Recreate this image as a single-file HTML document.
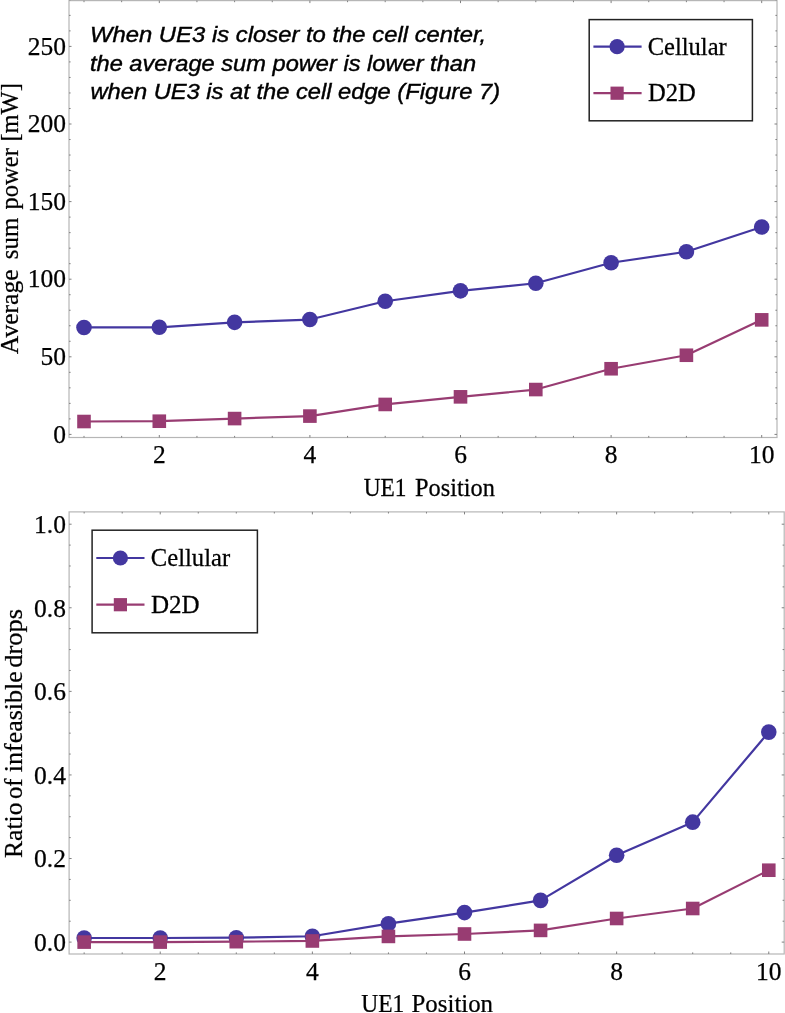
<!DOCTYPE html>
<html><head><meta charset="utf-8"><title>Average sum power and ratio of infeasible drops vs UE1 position</title><style>
html,body{margin:0;padding:0;background:#fff;}
body{width:785px;height:1013px;overflow:hidden}
svg{display:block}
.tl{font-family:"Liberation Serif",serif;font-size:25.5px;fill:#000;stroke:#000;stroke-width:0.25px}
.lg{font-family:"Liberation Serif",serif;fill:#000;stroke:#000;stroke-width:0.25px}
.al{font-family:"Liberation Serif",serif;fill:#000;stroke:#000;stroke-width:0.25px}
.an{font-family:"Liberation Sans",sans-serif;font-style:italic;fill:#000;stroke:#000;stroke-width:0.4px}
</style></head><body>
<svg width="785" height="1013" viewBox="0 0 785 1013">
<rect x="69" y="0.6" width="708" height="436.9" fill="none" stroke="#b6b6b6" stroke-width="1.2"/>
<path d="M84 437.5v-1.6M84 0.6v1.6M121.65 437.5v-1.6M121.65 0.6v1.6M159.3 437.5v-2.5M159.3 0.6v2.5M196.95 437.5v-1.6M196.95 0.6v1.6M234.6 437.5v-1.6M234.6 0.6v1.6M272.25 437.5v-1.6M272.25 0.6v1.6M309.9 437.5v-2.5M309.9 0.6v2.5M347.55 437.5v-1.6M347.55 0.6v1.6M385.2 437.5v-1.6M385.2 0.6v1.6M422.85 437.5v-1.6M422.85 0.6v1.6M460.5 437.5v-2.5M460.5 0.6v2.5M498.15 437.5v-1.6M498.15 0.6v1.6M535.8 437.5v-1.6M535.8 0.6v1.6M573.45 437.5v-1.6M573.45 0.6v1.6M611.1 437.5v-2.5M611.1 0.6v2.5M648.75 437.5v-1.6M648.75 0.6v1.6M686.4 437.5v-1.6M686.4 0.6v1.6M724.05 437.5v-1.6M724.05 0.6v1.6M761.7 437.5v-2.5M761.7 0.6v2.5M69 434.4h2.5M777 434.4h-2.5M69 418.88h1.6M777 418.88h-1.6M69 403.36h1.6M777 403.36h-1.6M69 387.84h1.6M777 387.84h-1.6M69 372.32h1.6M777 372.32h-1.6M69 356.8h2.5M777 356.8h-2.5M69 341.28h1.6M777 341.28h-1.6M69 325.76h1.6M777 325.76h-1.6M69 310.24h1.6M777 310.24h-1.6M69 294.72h1.6M777 294.72h-1.6M69 279.2h2.5M777 279.2h-2.5M69 263.68h1.6M777 263.68h-1.6M69 248.16h1.6M777 248.16h-1.6M69 232.64h1.6M777 232.64h-1.6M69 217.12h1.6M777 217.12h-1.6M69 201.6h2.5M777 201.6h-2.5M69 186.08h1.6M777 186.08h-1.6M69 170.56h1.6M777 170.56h-1.6M69 155.04h1.6M777 155.04h-1.6M69 139.52h1.6M777 139.52h-1.6M69 124h2.5M777 124h-2.5M69 108.48h1.6M777 108.48h-1.6M69 92.96h1.6M777 92.96h-1.6M69 77.44h1.6M777 77.44h-1.6M69 61.92h1.6M777 61.92h-1.6M69 46.4h2.5M777 46.4h-2.5M69 30.88h1.6M777 30.88h-1.6M69 15.36h1.6M777 15.36h-1.6M69 -0.16h1.6M777 -0.16h-1.6" stroke="#808080" stroke-width="1" fill="none"/>
<text x="65.9" y="442.6" text-anchor="end" class="tl">0</text>
<text x="65.9" y="365" text-anchor="end" class="tl">50</text>
<text x="65.9" y="287.4" text-anchor="end" class="tl">100</text>
<text x="65.9" y="209.8" text-anchor="end" class="tl">150</text>
<text x="65.9" y="132.2" text-anchor="end" class="tl">200</text>
<text x="65.9" y="54.6" text-anchor="end" class="tl">250</text>
<text x="159.3" y="462.9" text-anchor="middle" class="tl">2</text>
<text x="309.9" y="462.9" text-anchor="middle" class="tl">4</text>
<text x="460.5" y="462.9" text-anchor="middle" class="tl">6</text>
<text x="611.1" y="462.9" text-anchor="middle" class="tl">8</text>
<text x="761.7" y="462.9" text-anchor="middle" class="tl">10</text>
<path d="M84 327.47L159.3 327.31L234.6 322.35L309.9 319.55L385.2 301.24L460.5 290.84L535.8 283.24L611.1 262.75L686.4 251.73L761.7 227.05" stroke="#4337a0" stroke-width="2.2" fill="none" stroke-linejoin="round"/>
<circle cx="84" cy="327.47" r="7.8" fill="#4337a0"/>
<circle cx="159.3" cy="327.31" r="7.8" fill="#4337a0"/>
<circle cx="234.6" cy="322.35" r="7.8" fill="#4337a0"/>
<circle cx="309.9" cy="319.55" r="7.8" fill="#4337a0"/>
<circle cx="385.2" cy="301.24" r="7.8" fill="#4337a0"/>
<circle cx="460.5" cy="290.84" r="7.8" fill="#4337a0"/>
<circle cx="535.8" cy="283.24" r="7.8" fill="#4337a0"/>
<circle cx="611.1" cy="262.75" r="7.8" fill="#4337a0"/>
<circle cx="686.4" cy="251.73" r="7.8" fill="#4337a0"/>
<circle cx="761.7" cy="227.05" r="7.8" fill="#4337a0"/>
<path d="M84 421.52L159.3 421.21L234.6 418.57L309.9 416.09L385.2 404.45L460.5 396.84L535.8 389.55L611.1 368.75L686.4 355.25L761.7 319.86" stroke="#983c72" stroke-width="2.2" fill="none" stroke-linejoin="round"/>
<rect x="77.2" y="414.72" width="13.6" height="13.6" fill="#983c72"/>
<rect x="152.5" y="414.41" width="13.6" height="13.6" fill="#983c72"/>
<rect x="227.8" y="411.77" width="13.6" height="13.6" fill="#983c72"/>
<rect x="303.1" y="409.29" width="13.6" height="13.6" fill="#983c72"/>
<rect x="378.4" y="397.65" width="13.6" height="13.6" fill="#983c72"/>
<rect x="453.7" y="390.04" width="13.6" height="13.6" fill="#983c72"/>
<rect x="529" y="382.75" width="13.6" height="13.6" fill="#983c72"/>
<rect x="604.3" y="361.95" width="13.6" height="13.6" fill="#983c72"/>
<rect x="679.6" y="348.45" width="13.6" height="13.6" fill="#983c72"/>
<rect x="754.9" y="313.06" width="13.6" height="13.6" fill="#983c72"/>
<rect x="69.1" y="511.9" width="715.1" height="442.1" fill="none" stroke="#b6b6b6" stroke-width="1.2"/>
<path d="M84.15 954v-1.6M84.15 511.9v1.6M122.19 954v-1.6M122.19 511.9v1.6M160.22 954v-2.5M160.22 511.9v2.5M198.25 954v-1.6M198.25 511.9v1.6M236.29 954v-1.6M236.29 511.9v1.6M274.32 954v-1.6M274.32 511.9v1.6M312.36 954v-2.5M312.36 511.9v2.5M350.39 954v-1.6M350.39 511.9v1.6M388.43 954v-1.6M388.43 511.9v1.6M426.46 954v-1.6M426.46 511.9v1.6M464.5 954v-2.5M464.5 511.9v2.5M502.53 954v-1.6M502.53 511.9v1.6M540.57 954v-1.6M540.57 511.9v1.6M578.6 954v-1.6M578.6 511.9v1.6M616.64 954v-2.5M616.64 511.9v2.5M654.67 954v-1.6M654.67 511.9v1.6M692.71 954v-1.6M692.71 511.9v1.6M730.74 954v-1.6M730.74 511.9v1.6M768.78 954v-2.5M768.78 511.9v2.5M69.1 942.1h2.5M784.2 942.1h-2.5M69.1 921.21h1.6M784.2 921.21h-1.6M69.1 900.31h1.6M784.2 900.31h-1.6M69.1 879.42h1.6M784.2 879.42h-1.6M69.1 858.52h2.5M784.2 858.52h-2.5M69.1 837.62h1.6M784.2 837.62h-1.6M69.1 816.73h1.6M784.2 816.73h-1.6M69.1 795.84h1.6M784.2 795.84h-1.6M69.1 774.94h2.5M784.2 774.94h-2.5M69.1 754.05h1.6M784.2 754.05h-1.6M69.1 733.15h1.6M784.2 733.15h-1.6M69.1 712.25h1.6M784.2 712.25h-1.6M69.1 691.36h2.5M784.2 691.36h-2.5M69.1 670.47h1.6M784.2 670.47h-1.6M69.1 649.57h1.6M784.2 649.57h-1.6M69.1 628.68h1.6M784.2 628.68h-1.6M69.1 607.78h2.5M784.2 607.78h-2.5M69.1 586.88h1.6M784.2 586.88h-1.6M69.1 565.99h1.6M784.2 565.99h-1.6M69.1 545.1h1.6M784.2 545.1h-1.6M69.1 524.2h2.5M784.2 524.2h-2.5" stroke="#808080" stroke-width="1" fill="none"/>
<text x="65.9" y="950.9" text-anchor="end" class="tl">0.0</text>
<text x="65.9" y="867.32" text-anchor="end" class="tl">0.2</text>
<text x="65.9" y="783.74" text-anchor="end" class="tl">0.4</text>
<text x="65.9" y="700.16" text-anchor="end" class="tl">0.6</text>
<text x="65.9" y="616.58" text-anchor="end" class="tl">0.8</text>
<text x="65.9" y="533" text-anchor="end" class="tl">1.0</text>
<text x="160.22" y="979.6" text-anchor="middle" class="tl">2</text>
<text x="312.36" y="979.6" text-anchor="middle" class="tl">4</text>
<text x="464.5" y="979.6" text-anchor="middle" class="tl">6</text>
<text x="616.64" y="979.6" text-anchor="middle" class="tl">8</text>
<text x="768.78" y="979.6" text-anchor="middle" class="tl">10</text>
<path d="M84.15 938L160.22 938L236.29 937.71L312.36 936.25L388.43 923.71L464.5 912.6L540.57 900.39L616.64 855.18L692.71 822.16L768.78 732.11" stroke="#4337a0" stroke-width="2.2" fill="none" stroke-linejoin="round"/>
<circle cx="84.15" cy="938" r="7.8" fill="#4337a0"/>
<circle cx="160.22" cy="938" r="7.8" fill="#4337a0"/>
<circle cx="236.29" cy="937.71" r="7.8" fill="#4337a0"/>
<circle cx="312.36" cy="936.25" r="7.8" fill="#4337a0"/>
<circle cx="388.43" cy="923.71" r="7.8" fill="#4337a0"/>
<circle cx="464.5" cy="912.6" r="7.8" fill="#4337a0"/>
<circle cx="540.57" cy="900.39" r="7.8" fill="#4337a0"/>
<circle cx="616.64" cy="855.18" r="7.8" fill="#4337a0"/>
<circle cx="692.71" cy="822.16" r="7.8" fill="#4337a0"/>
<circle cx="768.78" cy="732.11" r="7.8" fill="#4337a0"/>
<path d="M84.15 942.1L160.22 942.1L236.29 941.68L312.36 940.97L388.43 936.42L464.5 933.99L540.57 930.4L616.64 918.49L692.71 908.5L768.78 870.22" stroke="#983c72" stroke-width="2.2" fill="none" stroke-linejoin="round"/>
<rect x="77.35" y="935.3" width="13.6" height="13.6" fill="#983c72"/>
<rect x="153.42" y="935.3" width="13.6" height="13.6" fill="#983c72"/>
<rect x="229.49" y="934.88" width="13.6" height="13.6" fill="#983c72"/>
<rect x="305.56" y="934.17" width="13.6" height="13.6" fill="#983c72"/>
<rect x="381.63" y="929.62" width="13.6" height="13.6" fill="#983c72"/>
<rect x="457.7" y="927.19" width="13.6" height="13.6" fill="#983c72"/>
<rect x="533.77" y="923.6" width="13.6" height="13.6" fill="#983c72"/>
<rect x="609.84" y="911.69" width="13.6" height="13.6" fill="#983c72"/>
<rect x="685.91" y="901.7" width="13.6" height="13.6" fill="#983c72"/>
<rect x="761.98" y="863.42" width="13.6" height="13.6" fill="#983c72"/>
<rect x="589.2" y="19.6" width="163.2" height="101.2" fill="#fff" stroke="#222" stroke-width="1.5"/>
<path d="M593.4 46.7H641.6" stroke="#4337a0" stroke-width="2.2"/>
<circle cx="617.1" cy="46.7" r="7.6" fill="#4337a0"/>
<path d="M593.4 93.2H641.6" stroke="#983c72" stroke-width="2.2"/>
<rect x="610.5" y="86.6" width="13.2" height="13.2" fill="#983c72"/>
<text transform="translate(647.72 55.1) scale(1.0100 1)" class="lg" font-size="24.3">Cellular</text>
<text transform="translate(647.96 101) scale(1.0123 1)" class="lg" font-size="24.3">D2D</text>
<rect x="92.1" y="530.2" width="165.3" height="102.6" fill="#fff" stroke="#222" stroke-width="1.5"/>
<path d="M96.3 558H144.5" stroke="#4337a0" stroke-width="2.2"/>
<circle cx="120.4" cy="558" r="7.6" fill="#4337a0"/>
<path d="M96.3 604.7H144.5" stroke="#983c72" stroke-width="2.2"/>
<rect x="113.8" y="598.1" width="13.2" height="13.2" fill="#983c72"/>
<text transform="translate(150.81 566.2) scale(1.0139 1)" class="lg" font-size="24.3">Cellular</text>
<text transform="translate(151.05 613) scale(1.0299 1)" class="lg" font-size="24.3">D2D</text>
<text transform="translate(89.95 42.1) scale(1.0844 1)" class="an" font-size="22.0">When UE3 is closer to the cell center,</text>
<text transform="translate(89.92 70.9) scale(1.0744 1)" class="an" font-size="22.0">the average sum power is lower than</text>
<text transform="translate(90.41 98.9) scale(1.0779 1)" class="an" font-size="22.0">when UE3 is at the cell edge (Figure 7)</text>
<text transform="translate(363.73 495.8) scale(0.9618 1)" class="al" font-size="24.3">UE1</text>
<text transform="translate(415.07 495.8) scale(1.0027 1)" class="al" font-size="24.3">Position</text>
<text transform="translate(361.23 1011.7) scale(0.9665 1)" class="al" font-size="24.3">UE1</text>
<text transform="translate(411.55 1011.7) scale(1.0231 1)" class="al" font-size="24.3">Position</text>
<text transform="translate(18.3 354.16) rotate(-90) scale(1.0239 1)" class="al" font-size="25.0">Average</text>
<text transform="translate(18.3 259.19) rotate(-90) scale(0.9938 1)" class="al" font-size="25.0">sum</text>
<text transform="translate(18.3 209.39) rotate(-90) scale(0.9798 1)" class="al" font-size="25.0">power</text>
<text transform="translate(18.3 141.51) rotate(-90) scale(0.9768 1)" class="al" font-size="25.0">[mW]</text>
<text transform="translate(22.3 857.97) rotate(-90) scale(1.0248 1)" class="al" font-size="25.0">Ratio</text>
<text transform="translate(22.3 798.99) rotate(-90) scale(0.9873 1)" class="al" font-size="25.0">of</text>
<text transform="translate(22.3 772.22) rotate(-90) scale(1.0392 1)" class="al" font-size="25.0">infeasible</text>
<text transform="translate(22.3 667.66) rotate(-90) scale(1.0567 1)" class="al" font-size="25.0">drops</text>
</svg>
</body></html>
